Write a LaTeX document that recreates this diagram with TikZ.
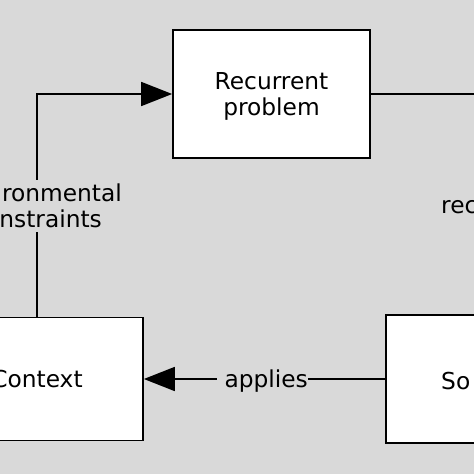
\documentclass[tikz,border=0pt]{standalone}
\usepackage{fontspec}
\setmainfont{DejaVu Sans}
\usetikzlibrary{arrows.meta}
\definecolor{bg}{HTML}{D9D9D9}
\begin{document}
\begin{tikzpicture}[x=1pt,y=-1pt,
  every node/.style={font=\fontsize{23.3}{25.5}\selectfont},
  box/.style={draw=black, fill=white, line width=1.7pt, minimum width=197pt, minimum height=128pt, align=center, inner sep=0pt},
  lbl/.style={fill=bg, inner xsep=3pt, inner ysep=4pt},
  conn/.style={line width=1.7pt},
  tip/.style={-{Triangle[length=31pt,width=24pt]}}]
\useasboundingbox[fill=bg] (0,0) rectangle (474,474);
\begin{scope}
\clip (0,0) rectangle (474,474);
\node[box, text depth=0pt] (rp) at (271.5,94) {Recurrent\\problem};
\node[box, minimum width=212pt, minimum height=123pt] (ctx) at (37,379) {Context};
\node[box] (sol) at (484.5,379) {};
\node[anchor=base west, inner sep=0pt] (soltxt) at (441,389) {So};
\coordinate (bend) at (37,94);
\coordinate (rpout) at (490,94);
\draw[conn,tip] (ctx.north) -- (bend) -- (rp.west);
\node[lbl, align=right, anchor=east, font=\fontsize{23.3}{26}\selectfont] (env) at (125,206) {ronmental\\nstraints\hspace*{20pt}};
\draw[conn] (rp.east) -- (rpout);
\node[anchor=base west, inner sep=0pt] (rec) at (441,213) {rec};
\draw[conn,tip] (sol.west) -- node[lbl, pos=0.317, anchor=east, inner xsep=0pt, yshift=-2pt]{\hspace*{8pt}applies} (ctx.east);
\end{scope}
\end{tikzpicture}
\end{document}
